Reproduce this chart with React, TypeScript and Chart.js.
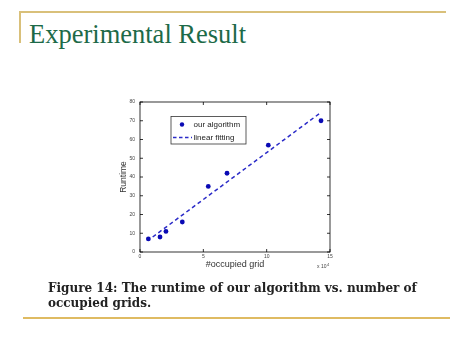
import React, { useEffect, useRef } from "react";
import { Chart, registerables } from "chart.js";

Chart.register(...registerables);

const occupiedGrid = [0.66, 1.58, 2.05, 3.34, 5.39, 6.87, 10.13, 14.29];
const runtime = [7, 8, 11, 16, 35, 42, 57, 70];
const fitGrid = [1.0, 14.2];
const fitRuntime = [8, 74];
const xTickValues = [0, 5, 10, 15];
const yTickValues = [0, 10, 20, 30, 40, 50, 60, 70, 80];
const seriesNames = ["our algorithm", "linear fitting"];

const MARKER = "#0a0ab4";
const FIT = "#2b2bc8";

const boxPlugin = {
  id: "matlabBox",
  afterDraw(chart: any) {
    const { ctx, chartArea: a, scales } = chart;
    const x = scales.x;
    const y = scales.y;
    ctx.save();
    ctx.strokeStyle = "#000";
    ctx.lineWidth = 0.8;
    ctx.strokeRect(a.left, a.top, a.right - a.left, a.bottom - a.top);
    ctx.beginPath();
    xTickValues.forEach((v) => {
      const px = x.getPixelForValue(v);
      ctx.moveTo(px, a.bottom);
      ctx.lineTo(px, a.bottom - 3);
      ctx.moveTo(px, a.top);
      ctx.lineTo(px, a.top + 3);
    });
    yTickValues.forEach((v) => {
      const py = y.getPixelForValue(v);
      ctx.moveTo(a.left, py);
      ctx.lineTo(a.left + 3, py);
      ctx.moveTo(a.right, py);
      ctx.lineTo(a.right - 3, py);
    });
    ctx.stroke();

    // exponent label
    ctx.fillStyle = "#444";
    ctx.font = "5px Arial, 'Liberation Sans', sans-serif";
    ctx.textBaseline = "alphabetic";
    ctx.textAlign = "left";
    const ex = a.right - 13;
    const ey = a.bottom + 16;
    ctx.fillText("x 10", ex, ey);
    const w = ctx.measureText("x 10").width;
    ctx.font = "4px Arial, 'Liberation Sans', sans-serif";
    ctx.fillText("4", ex + w + 0.5, ey - 2.5);

    // legend
    const lx = 171;
    const ly = 116.5;
    const lw = 75;
    const lh = 27.5;
    const ox = lx - 100;
    const oy = ly - 92;
    ctx.fillStyle = "#fff";
    ctx.fillRect(ox, oy, lw, lh);
    ctx.strokeStyle = "#333";
    ctx.lineWidth = 0.8;
    ctx.strokeRect(ox, oy, lw, lh);
    ctx.fillStyle = MARKER;
    ctx.beginPath();
    ctx.arc(ox + 11, oy + 8, 2.2, 0, Math.PI * 2);
    ctx.fill();
    ctx.strokeStyle = FIT;
    ctx.lineWidth = 1.4;
    ctx.setLineDash([3.5, 2.5]);
    ctx.beginPath();
    ctx.moveTo(ox + 2, oy + 21);
    ctx.lineTo(ox + 21, oy + 21);
    ctx.stroke();
    ctx.setLineDash([]);
    ctx.fillStyle = "#222";
    ctx.font = "8px Arial, 'Liberation Sans', sans-serif";
    ctx.textBaseline = "middle";
    ctx.fillText(seriesNames[0], ox + 22.5, oy + 8);
    ctx.fillText(seriesNames[1], ox + 22.5, oy + 21);
    ctx.restore();
  },
};

export default function App() {
  const ref = useRef<HTMLCanvasElement | null>(null);

  useEffect(() => {
    const prevMargin = document.body.style.margin;
    document.body.style.margin = "0";
    if (!ref.current) return;
    const chart = new Chart(ref.current, {
      type: "scatter",
      data: {
        datasets: [
          {
            label: seriesNames[0],
            data: occupiedGrid.map((g, i) => ({ x: g, y: runtime[i] })),
            backgroundColor: MARKER,
            borderColor: MARKER,
            pointRadius: 2.4,
            pointBorderWidth: 0,
            showLine: false,
          },
          {
            label: seriesNames[1],
            data: fitGrid.map((g, i) => ({ x: g, y: fitRuntime[i] })),
            borderColor: FIT,
            backgroundColor: FIT,
            borderWidth: 1.5,
            borderDash: [4, 3],
            pointRadius: 0,
            showLine: true,
          },
        ],
      },
      options: {
        animation: false,
        responsive: false,
        maintainAspectRatio: false,
        layout: { padding: { left: 0, right: 20, top: 10, bottom: 0 } },
        plugins: { legend: { display: false }, tooltip: { enabled: false } },
        scales: {
          x: {
            type: "linear",
            min: 0,
            max: 15,
            afterBuildTicks: (s: any) => {
              s.ticks = xTickValues.map((v) => ({ value: v }));
            },
            afterFit: (s: any) => {
              s.height = 30;
            },
            grid: { display: false, drawTicks: false },
            border: { display: false },
            ticks: {
              padding: 2,
              color: "#444",
              font: { size: 5, family: "Arial, 'Liberation Sans', sans-serif" },
              maxRotation: 0,
            },
            title: {
              display: true,
              text: "#occupied grid",
              color: "#333",
              font: { size: 9, family: "Arial, 'Liberation Sans', sans-serif" },
              padding: { top: 0, bottom: 11.6 },
            },
          },
          y: {
            type: "linear",
            min: 0,
            max: 80,
            afterBuildTicks: (s: any) => {
              s.ticks = yTickValues.map((v) => ({ value: v }));
            },
            afterFit: (s: any) => {
              s.width = 40;
            },
            grid: { display: false, drawTicks: false },
            border: { display: false },
            ticks: {
              padding: 5,
              color: "#444",
              font: { size: 5, family: "Arial, 'Liberation Sans', sans-serif" },
            },
            title: {
              display: true,
              text: "Runtime",
              color: "#333",
              font: { size: 8.5, family: "Arial, 'Liberation Sans', sans-serif" },
              padding: { top: 18.9, bottom: 0 },
            },
          },
        },
      },
      plugins: [boxPlugin],
    });
    return () => {
      chart.destroy();
      document.body.style.margin = prevMargin;
    };
  }, []);

  const gold = "#d9c07a";

  return (
    <div
      style={{
        position: "fixed",
        left: 0,
        top: 0,
        width: 474,
        height: 355,
        background: "#fff",
        overflow: "hidden",
      }}
    >
      <div style={{ position: "absolute", left: 19, top: 11, width: 427, height: 2, background: gold }} />
      <div style={{ position: "absolute", left: 19, top: 11, width: 2, height: 32, background: gold }} />
      <div
        style={{
          position: "absolute",
          left: 29,
          top: 20.6,
          fontFamily: "'Liberation Serif', 'Times New Roman', serif",
          fontSize: 26.5,
          lineHeight: 1,
          color: "#1d6a48",
          whiteSpace: "nowrap",
        }}
      >
        Experimental Result
      </div>
      <div style={{ position: "absolute", left: 100, top: 92, width: 250, height: 190 }}>
        <canvas ref={ref} width={250} height={190} style={{ width: 250, height: 190, display: "block" }} />
      </div>
      <div
        style={{
          position: "absolute",
          left: 48,
          top: 281,
          width: 420,
          fontFamily: "'DejaVu Serif', 'Liberation Serif', serif",
          fontWeight: "bold",
          fontSize: 12,
          lineHeight: "15px",
          color: "#222",
        }}
      >
        <div style={{ whiteSpace: "nowrap" }}>Figure 14: The runtime of our algorithm vs. number of</div>
        <div style={{ whiteSpace: "nowrap" }}>occupied grids.</div>
      </div>
      <div style={{ position: "absolute", left: 23, top: 317, width: 427, height: 2, background: "#dfbb62" }} />
    </div>
  );
}
